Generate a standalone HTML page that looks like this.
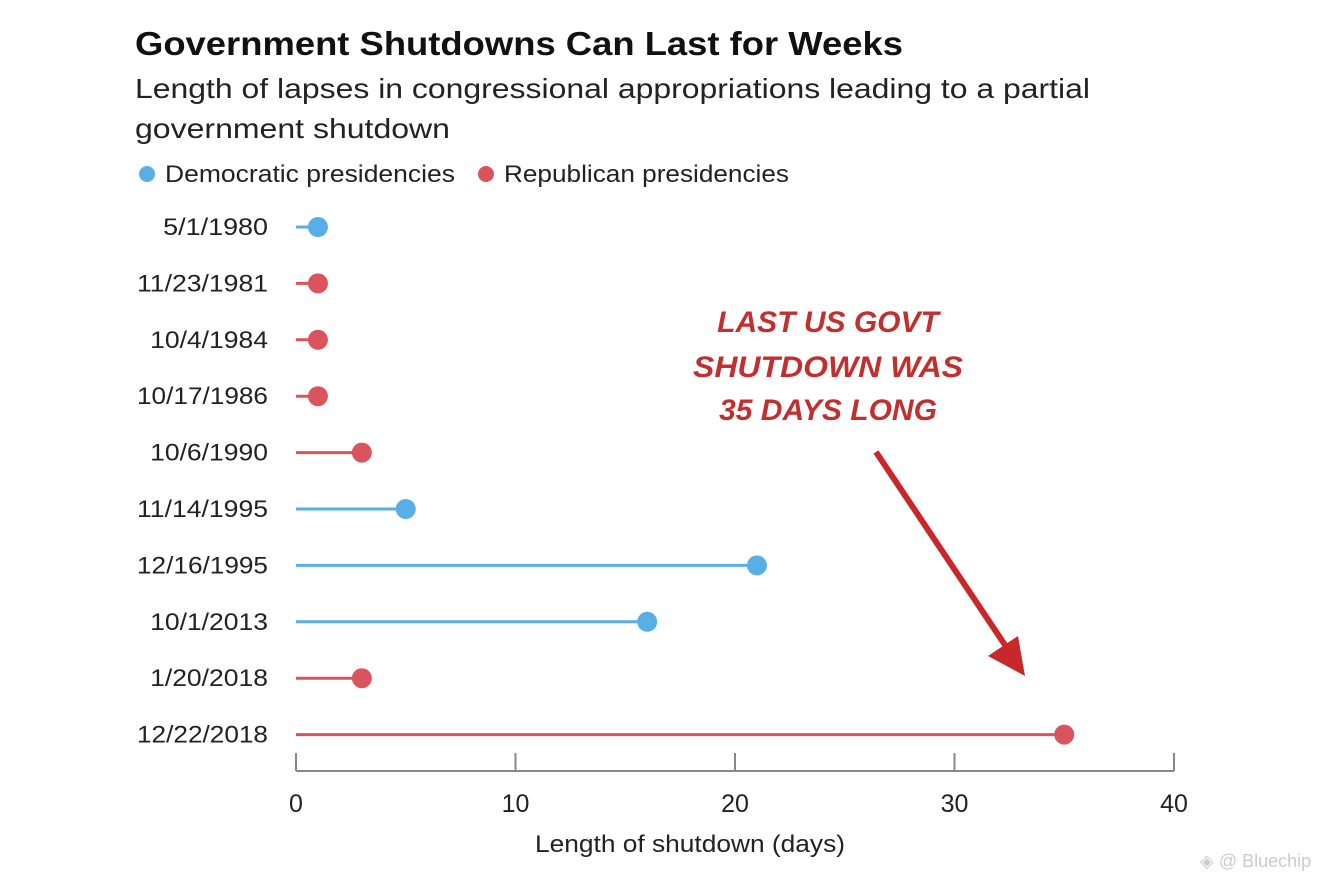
<!DOCTYPE html>
<html><head><meta charset="utf-8"><style>
body{margin:0;background:#fff;}
svg{display:block;font-family:"Liberation Sans",sans-serif;}
</style></head><body>
<svg id="c" width="1344" height="888" viewBox="0 0 1344 888">
<text x="135" y="55" font-size="33" font-weight="bold" fill="#111" textLength="768" lengthAdjust="spacingAndGlyphs">Government Shutdowns Can Last for Weeks</text>
<text x="135" y="98" font-size="28" fill="#222" textLength="955" lengthAdjust="spacingAndGlyphs">Length of lapses in congressional appropriations leading to a partial</text>
<text x="135" y="138" font-size="28" fill="#222" textLength="315" lengthAdjust="spacingAndGlyphs">government shutdown</text>
<g>
<circle cx="147" cy="174" r="8" fill="#5aaee6"/>
<text x="165" y="182" font-size="24" fill="#222" textLength="290" lengthAdjust="spacingAndGlyphs">Democratic presidencies</text>
<circle cx="486" cy="174" r="8" fill="#d9545c"/>
<text x="504" y="182" font-size="24" fill="#222" textLength="285" lengthAdjust="spacingAndGlyphs">Republican presidencies</text>
</g>
<g id="plot"></g>
<g font-size="30" font-weight="bold" font-style="italic" fill="#c0302f" text-anchor="middle">
<text x="828" y="332">LAST US GOVT</text>
<text x="828" y="377" textLength="270" lengthAdjust="spacingAndGlyphs">SHUTDOWN WAS</text>
<text x="828" y="420">35 DAYS LONG</text>
<line x1="876" y1="452" x2="1007" y2="648" stroke="#c8282a" stroke-width="6"/>
<polygon points="1025,676 988,656 1018,636" fill="#c8282a"/>
</g>
<text x="690" y="852" font-size="24" fill="#222" text-anchor="middle" textLength="310" lengthAdjust="spacingAndGlyphs">Length of shutdown (days)</text>
<text x="1200" y="867" font-size="18" fill="#ccc">◈ @ Bluechip</text>
</svg>
<script>
const dates=["5/1/1980","11/23/1981","10/4/1984","10/17/1986","10/6/1990","11/14/1995","12/16/1995","10/1/2013","1/20/2018","12/22/2018"];
const days=[1,1,1,1,3,5,21,16,3,35];
const party=["D","R","R","R","R","D","D","D","R","R"];
const ticks=[0,10,20,30,40];
const NS="http://www.w3.org/2000/svg";
const g=document.getElementById("plot");
const x=v=>296+v*(1174-296)/40;
const y=i=>227+i*56.4;
function mk(t,a,p){const e=document.createElementNS(NS,t);for(const k in a)e.setAttribute(k,a[k]);(p||g).appendChild(e);return e;}
dates.forEach((d,i)=>{
 const col=party[i]==="D"?"#5aaee6":"#d9545c";
 const t=mk("text",{x:268,y:y(i)+8,"font-size":24,"font-weight":"500",fill:"#222","text-anchor":"end","textLength":d.length*13.1,"lengthAdjust":"spacingAndGlyphs"});t.textContent=d;
 
 
 const l=mk("line",{x1:x(0),y1:y(i),x2:x(days[i]),y2:y(i),stroke:col,"stroke-width":3});
 
 
 const c=mk("circle",{cx:x(days[i]),cy:y(i),r:10,fill:col});
 
 
});
const ax=mk("line",{x1:x(0),y1:771,x2:x(40),y2:771,stroke:"#888","stroke-width":2});


ticks.forEach(v=>{
 const tk=mk("line",{x1:x(v),y1:753,x2:x(v),y2:771,stroke:"#888","stroke-width":2});
 
 
 const tl=mk("text",{x:x(v),y:812,"font-size":25,fill:"#222","text-anchor":"middle"});tl.textContent=v;
 
 
});
</script>
</body></html>
